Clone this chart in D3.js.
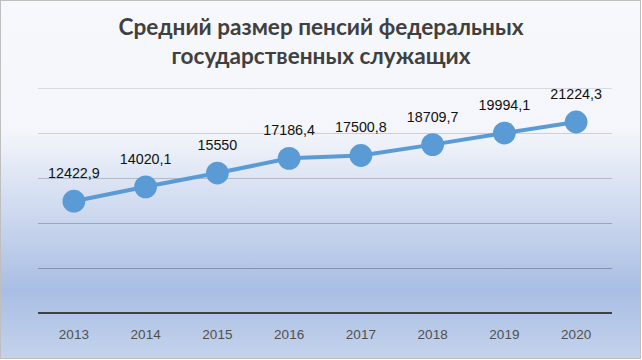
<!DOCTYPE html>
<html>
<head>
<meta charset="utf-8">
<script src="https://cdn.jsdelivr.net/npm/d3@7"></script>
<style>
html,body{margin:0;padding:0;background:#fff;}
svg{display:block;}
</style>
</head>
<body>
<svg id="chart" width="642" height="360"></svg>
<script>
const titleLines = ["Средний размер пенсий федеральных", "государственных служащих"];
const years = ["2013", "2014", "2015", "2016", "2017", "2018", "2019", "2020"];
const pensions = [12422.9, 14020.1, 15550, 17186.4, 17500.8, 18709.7, 19994.1, 21224.3];
const yTicks = [0, 5000, 10000, 15000, 20000, 25000];

const svg = d3.select("#chart");

// background gradient
const defs = svg.append("defs");
const grad = defs.append("linearGradient").attr("id", "bg").attr("x1", 0).attr("y1", 0).attr("x2", 0).attr("y2", 1);
[[0, "#F7F8FC"], [0.36, "#F4F6FB"], [0.81, "#A9BEE4"], [1, "#C4D3EC"]].forEach(([o, c]) =>
  grad.append("stop").attr("offset", o).attr("stop-color", c));

svg.append("rect").attr("x", 0.5).attr("y", 0.5).attr("width", 640).attr("height", 358)
  .attr("fill", "url(#bg)").attr("stroke", "#BFBFBF").attr("stroke-width", 1);

const plot = {left: 38, right: 612, top: 88, bottom: 313};

const x = d3.scaleBand().domain(years).range([plot.left, plot.right]);
const y = d3.scaleLinear().domain([0, 25000]).range([plot.bottom, plot.top]);
const gridOpacity = d3.scaleLinear().domain([plot.top, plot.bottom]).range([0.14, 0.4]);

// gridlines
svg.append("g").selectAll("line").data(yTicks.filter(t => t > 0)).join("line")
  .attr("x1", plot.left).attr("x2", plot.right)
  .attr("y1", d => Math.round(y(d)) + 0.5).attr("y2", d => Math.round(y(d)) + 0.5)
  .attr("stroke", "#30343c").attr("stroke-opacity", d => gridOpacity(y(d))).attr("stroke-width", 1);

// x axis
const xAxis = d3.axisBottom(x).tickSize(0).tickPadding(0);
const gx = svg.append("g").attr("transform", `translate(0,${y(0)})`).call(xAxis);
gx.select(".domain").attr("stroke", "#404040").attr("stroke-width", 2).attr("d", `M${plot.left},0H${plot.right}`);
gx.selectAll("text").attr("font-family", "Liberation Sans, Arial, sans-serif").attr("font-size", 13.5)
  .attr("fill", "#505050").attr("dy", null).attr("y", 26);

// line
const line = d3.line().x((d, i) => x(years[i]) + x.bandwidth() / 2).y(d => y(d));
svg.append("path").datum(pensions).attr("d", line).attr("fill", "none")
  .attr("stroke", "#5B9BD5").attr("stroke-width", 4).attr("stroke-linejoin", "round");

svg.append("g").selectAll("circle").data(pensions).join("circle")
  .attr("cx", (d, i) => x(years[i]) + x.bandwidth() / 2).attr("cy", d => y(d)).attr("r", 11.4)
  .attr("fill", "#5B9BD5");

// labels
const fmt = v => String(v).replace(".", ",");
svg.append("g").selectAll("text").data(pensions).join("text")
  .attr("x", (d, i) => x(years[i]) + x.bandwidth() / 2).attr("y", d => y(d) - 23)
  .attr("text-anchor", "middle").attr("font-family", "Liberation Sans, Arial, sans-serif")
  .attr("font-size", 14.3).attr("fill", "#111").text(fmt);

// title
const t = svg.append("text").attr("text-anchor", "middle").attr("font-family", "Lato, 'Open Sans', sans-serif")
  .attr("font-weight", "bold").attr("font-size", 22).attr("fill", "#404040");
t.selectAll("tspan").data(titleLines).join("tspan").attr("x", 321).attr("y", (d, i) => 35 + i * 29).text(d => d);
const w0 = t.select("tspan").node().getComputedTextLength();
t.attr("font-size", 22 * 405 / w0);
</script>
</body>
</html>
